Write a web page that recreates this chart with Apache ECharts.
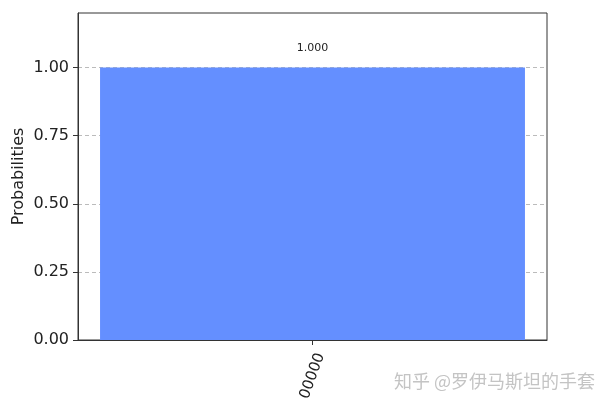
<!DOCTYPE html>
<html>
<head>
<meta charset="utf-8">
<script src="https://cdn.jsdelivr.net/npm/echarts@6/dist/echarts.min.js"></script>
<style>html,body{margin:0;padding:0;background:#fff}#c{width:610px;height:411px}</style>
</head>
<body>
<div id="c"></div>
<script>
var categories = ['00000'];
var probabilities = [1.0];
var barLabels = ['1.000'];
var yTicks = [0, 0.25, 0.5, 0.75, 1.0];

var chart = echarts.init(document.getElementById('c'), null, {renderer: 'canvas'});
chart.setOption({
  animation: false,
  backgroundColor: '#fff',
  grid: {left: 78, right: 63, top: 13, bottom: 71, show: true, borderColor: '#333', borderWidth: 1,
         backgroundColor: 'transparent', containLabel: false, outerBoundsMode: 'none'},
  xAxis: {
    type: 'category',
    data: categories,
    axisLine: {show: true, lineStyle: {color: '#333'}},
    axisTick: {show: true, alignWithLabel: true, length: 5, lineStyle: {color: '#333'}},
    axisLabel: {rotate: 70, fontSize: 15, color: '#222', fontFamily: 'DejaVu Sans', margin: 36,
                align: 'center', verticalAlign: 'middle'}
  },
  yAxis: {
    type: 'value',
    min: 0, max: 1.2, interval: 0.25,
    name: 'Probabilities',
    nameLocation: 'middle',
    nameGap: 51,
    nameMoveOverlap: false,
    nameTextStyle: {fontSize: 16, color: '#222', fontFamily: 'DejaVu Sans'},
    axisLine: {show: true, lineStyle: {color: '#333'}},
    axisTick: {show: true, length: 5, lineStyle: {color: '#333'}, customValues: yTicks},
    axisLabel: {
      fontSize: 16, color: '#222', fontFamily: 'DejaVu Sans', margin: 9,
      customValues: yTicks,
      formatter: function (v) { return v.toFixed(2); }
    },
    splitLine: {show: true, lineStyle: {color: '#bbb', type: [4, 3], width: 1}}
  },
  series: [{
    type: 'bar',
    data: probabilities,
    barWidth: '90.6%',
    itemStyle: {color: '#648fff'},
    z: 3,
    label: {
      show: true, position: 'top', distance: 14,
      fontSize: 11, color: '#222', fontFamily: 'DejaVu Sans',
      formatter: function (p) { return barLabels[p.dataIndex]; }
    }
  }],
  graphic: [{
    type: 'text',
    right: 15, top: 372,
    style: {text: '知乎 @罗伊马斯坦的手套', fontSize: 18, fill: '#c4c4c4', fontFamily: 'Noto Sans CJK SC'}
  }]
});
</script>
</body>
</html>
